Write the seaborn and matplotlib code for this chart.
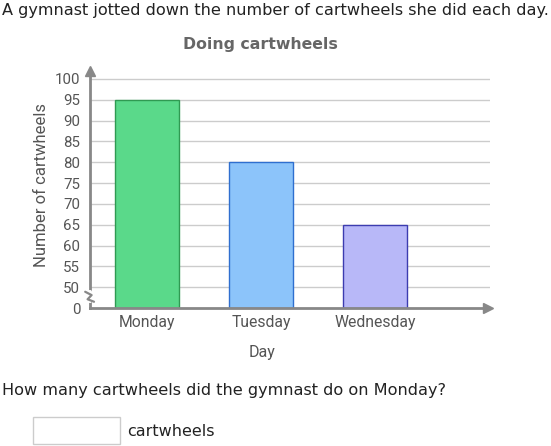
import numpy as np
import pandas as pd
import matplotlib
matplotlib.use("Agg")
import matplotlib.pyplot as plt
import seaborn as sns

days = ["Monday", "Tuesday", "Wednesday"]
cartwheels = [95, 80, 65]
y_ticks = [0, 50, 55, 60, 65, 70, 75, 80, 85, 90, 95, 100]
fill_colors = ["#5ad98a", "#8cc4fa", "#b8b8f8"]
edge_colors = ["#2f9a52", "#2f6fcf", "#3c3cb0"]

sns.set_theme(style="white")
plt.rcParams["font.family"] = ["Roboto", "DejaVu Sans"]

W, H = 551, 446
fig = plt.figure(figsize=(W / 100, H / 100), dpi=100)

# axes in pixel coordinates
x0, x1 = 90, 490
y_bot, y_top = 308, 70
ax = fig.add_axes([x0 / W, 1 - y_bot / H, (x1 - x0) / W, (y_bot - y_top) / H])


def fwd(v):
    v = np.asarray(v, dtype=float)
    return np.where(v < 50, v / 50.0, (v - 45.0) / 5.0)


def inv(p):
    p = np.asarray(p, dtype=float)
    return np.where(p < 1, p * 50.0, p * 5.0 + 45.0)


ax.set_yscale("function", functions=(fwd, inv))

df = pd.DataFrame({"Day": days, "Cartwheels": cartwheels})
sns.barplot(data=df, x="Day", y="Cartwheels", hue="Day", palette=fill_colors,
            width=0.56, legend=False, ax=ax, zorder=3, saturation=1)
for patch, ec in zip(ax.patches, edge_colors):
    patch.set_edgecolor(ec)
    patch.set_linewidth(1.0)

px_per_unit = 114
ax.set_xlim(-0.5, (x1 - x0) / px_per_unit - 0.5)
top_pos = (y_bot - y_top) / ((308 - 79) / 11.0)
ax.set_ylim(0, float(inv(top_pos)))

ax.set_yticks(y_ticks)
ax.set_yticklabels([str(t) for t in y_ticks])
ax.yaxis.set_minor_locator(matplotlib.ticker.NullLocator())
ax.tick_params(axis="both", length=0, labelcolor="#555555")
ax.tick_params(axis="y", pad=7, labelsize=10.8)
ax.tick_params(axis="x", pad=5, labelsize=11.3)

for t in y_ticks[1:]:
    ax.axhline(t, color="#cccccc", lw=1.0, zorder=1)

for s in ["top", "right"]:
    ax.spines[s].set_visible(False)
for s in ["left", "bottom"]:
    ax.spines[s].set_color("#888888")
    ax.spines[s].set_linewidth(2.0)
    ax.spines[s].set_zorder(4)

# arrows
ax.plot(0.995, 0, marker=">", markersize=7, color="#888888", transform=ax.transAxes,
        clip_on=False, zorder=5)
ax.plot(0, 0.995, marker="^", markersize=7, color="#888888", transform=ax.transAxes,
        clip_on=False, zorder=5)

# axis break
bt = ax.get_yaxis_transform()
ax.plot([0, 0], [float(inv(0.35)), float(inv(0.75))], color="white", lw=3,
        transform=bt, clip_on=False, zorder=6)
fx = np.array([-0.012, 0.004, -0.006, 0.010])
fy = np.array([0.78, 0.62, 0.42, 0.30])
ax.plot(fx, inv(fy), color="#888888", lw=1.6, transform=bt, clip_on=False, zorder=7)

ax.set_xlabel("Day", fontsize=11.5, color="#555555")
ax.xaxis.set_label_coords((262 - x0) / (x1 - x0), -(345 - y_bot) / (y_bot - y_top))
ax.set_ylabel("Number of cartwheels", fontsize=12, color="#555555")
ax.yaxis.set_label_coords((49 - x0) / (x1 - x0), (y_bot - 185) / (y_bot - y_top))

fig.text(260 / W, 1 - 44 / H, "Doing cartwheels", ha="center", va="center",
         fontsize=11.3, fontweight="bold", color="#666666", family="DejaVu Sans")

fig.text(2 / W, 1 - 10 / H, "A gymnast jotted down the number of cartwheels she did each day.",
         ha="left", va="center", fontsize=11.6, color="#222222", family="DejaVu Sans")
fig.text(2 / W, 1 - 391 / H, "How many cartwheels did the gymnast do on Monday?",
         ha="left", va="center", fontsize=11.6, color="#222222", family="DejaVu Sans")

box = matplotlib.patches.Rectangle((33 / W, 1 - 444 / H), 87 / W, 27 / H,
                                   transform=fig.transFigure, fill=False,
                                   edgecolor="#cccccc", lw=1.0)
fig.patches.append(box)
fig.text(127 / W, 1 - 432 / H, "cartwheels", ha="left", va="center",
         fontsize=11.5, color="#222222", family="DejaVu Sans")

fig.savefig("out.png", dpi=100)
